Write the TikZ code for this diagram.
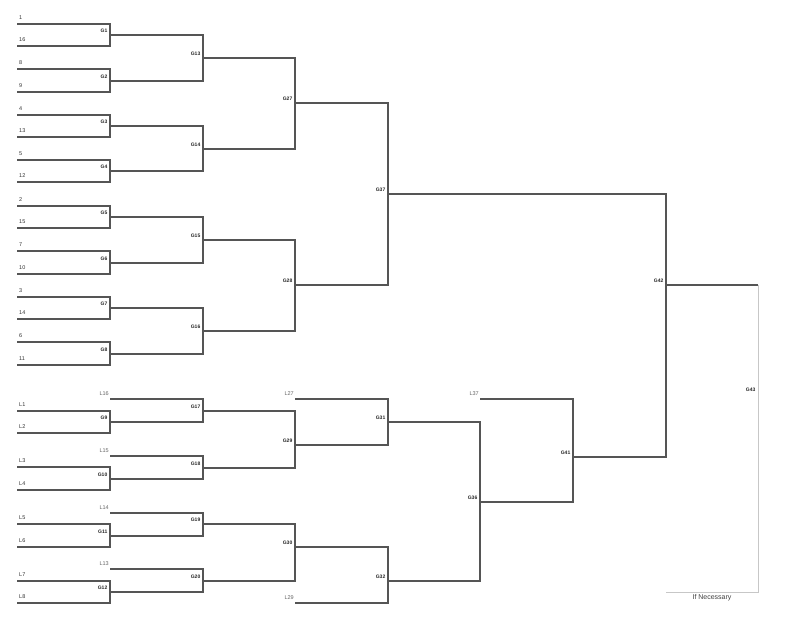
\documentclass[tikz,border=0pt]{standalone}
\usepackage{fontspec}
\setmainfont{Liberation Sans}
\definecolor{lineg}{RGB}{85,85,85}
\begin{document}
\begin{tikzpicture}[x=1pt,y=-1pt,
  br/.style={draw=lineg, line width=1.4pt},
  lite/.style={draw=black!22, line width=0.8pt},
  glab/.style={font=\fontsize{5}{6}\selectfont\bfseries, text=black!85, inner sep=0pt, anchor=south east},
  slab/.style={font=\fontsize{5.5}{6}\selectfont, text=black!80, inner sep=0pt, anchor=south west},
  llab/.style={font=\fontsize{5.5}{6}\selectfont, text=black!60, inner sep=0pt, anchor=south east},
  nlab/.style={font=\fontsize{7}{8}\selectfont, text=black!75, inner sep=0pt, anchor=north}]
\fill[white] (0,0) rectangle (794,632);
\useasboundingbox (0,0) rectangle (794,632);
% seeds
\coordinate (s1) at (17,24);   \coordinate (s16) at (17,46);
\coordinate (s8) at (17,69);   \coordinate (s9) at (17,92);
\coordinate (s4) at (17,115);  \coordinate (s13) at (17,137);
\coordinate (s5) at (17,160);  \coordinate (s12) at (17,182);
\coordinate (s2) at (17,206);  \coordinate (s15) at (17,228);
\coordinate (s7) at (17,251);  \coordinate (s10) at (17,274);
\coordinate (s3) at (17,297);  \coordinate (s14) at (17,319);
\coordinate (s6) at (17,342);  \coordinate (s11) at (17,365);
% junctions upper
\coordinate (g1) at (110,35);  \coordinate (g2) at (110,81);
\coordinate (g3) at (110,126); \coordinate (g4) at (110,171);
\coordinate (g5) at (110,217); \coordinate (g6) at (110,263);
\coordinate (g7) at (110,308); \coordinate (g8) at (110,354);
\coordinate (g13) at (203,58); \coordinate (g14) at (203,149);
\coordinate (g15) at (203,240); \coordinate (g16) at (203,331);
\coordinate (g27) at (295,103); \coordinate (g28) at (295,285);
\coordinate (g37) at (388,194);
\coordinate (g42) at (666,285);
\coordinate (g43) at (758,394);
\coordinate (nb) at (666,592);
% lower
\coordinate (l1) at (17,411); \coordinate (l2) at (17,433);
\coordinate (l3) at (17,467); \coordinate (l4) at (17,490);
\coordinate (l5) at (17,524); \coordinate (l6) at (17,547);
\coordinate (l7) at (17,581); \coordinate (l8) at (17,603);
\coordinate (g9) at (110,422);  \coordinate (g10) at (110,479);
\coordinate (g11) at (110,536); \coordinate (g12) at (110,592);
\coordinate (l16) at (110,399); \coordinate (l15) at (110,456);
\coordinate (l14) at (110,513); \coordinate (l13) at (110,569);
\coordinate (g17) at (203,411); \coordinate (g18) at (203,468);
\coordinate (g19) at (203,524); \coordinate (g20) at (203,581);
\coordinate (g29) at (295,445); \coordinate (g30) at (295,547);
\coordinate (l27) at (295,399); \coordinate (l29) at (295,603);
\coordinate (g31) at (388,422); \coordinate (g32) at (388,581);
\coordinate (g36) at (480,502); \coordinate (l37) at (480,399);
\coordinate (g41) at (573,457);
% upper bracket lines
\draw[br] (s1) -- (s1 -| g1) -- (s16 -| g1) -- (s16);
\draw[br] (s8) -- (s8 -| g2) -- (s9 -| g2) -- (s9);
\draw[br] (s4) -- (s4 -| g3) -- (s13 -| g3) -- (s13);
\draw[br] (s5) -- (s5 -| g4) -- (s12 -| g4) -- (s12);
\draw[br] (s2) -- (s2 -| g5) -- (s15 -| g5) -- (s15);
\draw[br] (s7) -- (s7 -| g6) -- (s10 -| g6) -- (s10);
\draw[br] (s3) -- (s3 -| g7) -- (s14 -| g7) -- (s14);
\draw[br] (s6) -- (s6 -| g8) -- (s11 -| g8) -- (s11);
\draw[br] (g1) -- (g1 -| g13) -- (g2 -| g13) -- (g2);
\draw[br] (g3) -- (g3 -| g14) -- (g4 -| g14) -- (g4);
\draw[br] (g5) -- (g5 -| g15) -- (g6 -| g15) -- (g6);
\draw[br] (g7) -- (g7 -| g16) -- (g8 -| g16) -- (g8);
\draw[br] (g13) -- (g13 -| g27) -- (g14 -| g27) -- (g14);
\draw[br] (g15) -- (g15 -| g28) -- (g16 -| g28) -- (g16);
\draw[br] (g27) -- (g27 -| g37) -- (g28 -| g37) -- (g28);
\draw[br] (g37) -- (g37 -| g42) -- (g41 -| g42) -- (g41);
\draw[br] (g42) -- (g42 -| g43);
\draw[lite] (g42 -| g43) -- (nb -| g43) -- (nb);
% lower bracket lines
\draw[br] (l1) -- (l1 -| g9) -- (l2 -| g9) -- (l2);
\draw[br] (l3) -- (l3 -| g10) -- (l4 -| g10) -- (l4);
\draw[br] (l5) -- (l5 -| g11) -- (l6 -| g11) -- (l6);
\draw[br] (l7) -- (l7 -| g12) -- (l8 -| g12) -- (l8);
\draw[br] (l16) -- (l16 -| g17) -- (g9 -| g17) -- (g9);
\draw[br] (l15) -- (l15 -| g18) -- (g10 -| g18) -- (g10);
\draw[br] (l14) -- (l14 -| g19) -- (g11 -| g19) -- (g11);
\draw[br] (l13) -- (l13 -| g20) -- (g12 -| g20) -- (g12);
\draw[br] (g17) -- (g17 -| g29) -- (g18 -| g29) -- (g18);
\draw[br] (g19) -- (g19 -| g30) -- (g20 -| g30) -- (g20);
\draw[br] (l27) -- (l27 -| g31) -- (g29 -| g31) -- (g29);
\draw[br] (g30) -- (g30 -| g32) -- (l29 -| g32) -- (l29);
\draw[br] (g31) -- (g31 -| g36) -- (g32 -| g36) -- (g32);
\draw[br] (l37) -- (l37 -| g41) -- (g36 -| g41) -- (g36);
% seed labels
\foreach \c/\t in {s1/1,s16/16,s8/8,s9/9,s4/4,s13/13,s5/5,s12/12,s2/2,s15/15,s7/7,s10/10,s3/3,s14/14,s6/6,s11/11,l1/L1,l2/L2,l3/L3,l4/L4,l5/L5,l6/L6,l7/L7,l8/L8}
  \node[slab] (t\c) at ([xshift=2pt,yshift=4pt]\c) {\t};
% loser-entry labels
\foreach \c/\t in {l16/L16,l15/L15,l14/L14,l13/L13,l27/L27,l29/L29,l37/L37}
  \node[llab] (t\c) at ([xshift=-1pt,yshift=3pt]\c) {\t};
% game labels
\foreach \c/\t in {g1/G1,g2/G2,g3/G3,g4/G4,g5/G5,g6/G6,g7/G7,g8/G8,g9/G9,g10/G10,g11/G11,g12/G12,g13/G13,g14/G14,g15/G15,g16/G16,g17/G17,g18/G18,g19/G19,g20/G20,g27/G27,g28/G28,g29/G29,g30/G30,g31/G31,g32/G32,g36/G36,g37/G37,g41/G41,g42/G42,g43/G43}
  \node[glab] (t\c) at ([xshift=-2.5pt,yshift=2pt]\c) {\t};
\node[nlab] (ifn) at ([xshift=46pt,yshift=-2pt]nb) {If Necessary};
\end{tikzpicture}
\end{document}
